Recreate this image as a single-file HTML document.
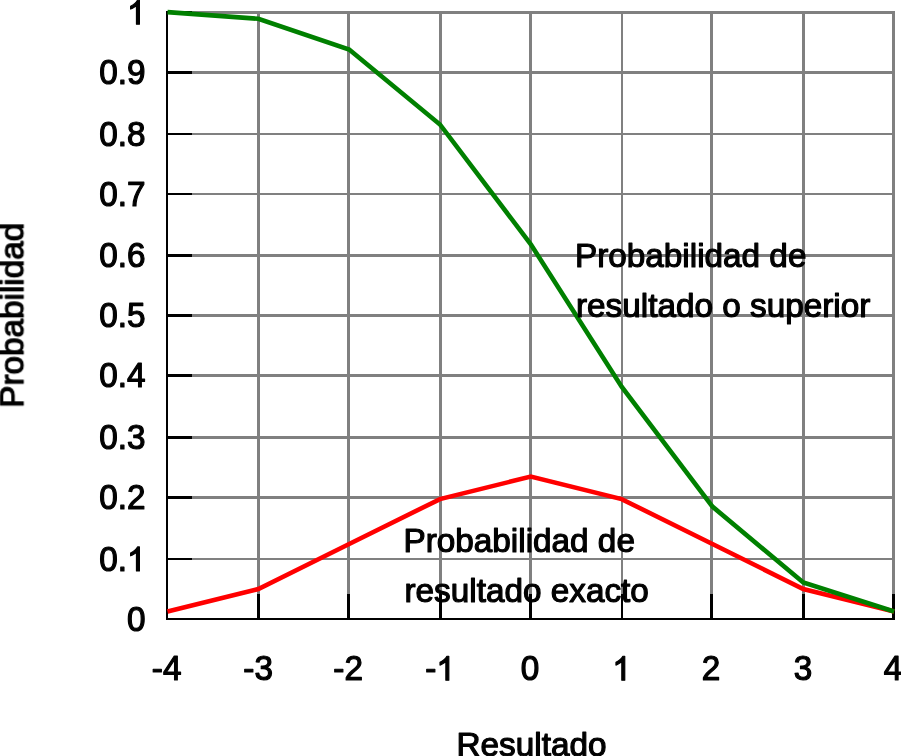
<!DOCTYPE html><html><head><meta charset="utf-8"><style>html,body{margin:0;padding:0;background:#fff;overflow:hidden}svg{display:block}text{font-family:"Liberation Sans",sans-serif;font-size:33.3px;fill:#000;stroke:#000;stroke-width:1.2px;stroke-linejoin:round}</style></head><body>
<svg width="901" height="756" viewBox="0 0 901 756">
<rect width="901" height="756" fill="#fff"/>
<path d="M166 11h2V620h-2zM257 11h3V620h-3zM347 11h3V620h-3zM439 11h3V620h-3zM529 11h3V620h-3zM621 11h2V620h-2zM710 11h3V620h-3zM802 11h3V620h-3zM892 11h3V620h-3zM166 618H895v2H166zM166 558H895v2H166zM166 496H895v3H166zM166 436H895v3H166zM166 374H895v3H166zM166 314H895v3H166zM166 254H895v3H166zM166 193H895v2H166zM166 133H895v2H166zM166 71H895v3H166zM166 11H895v2.5H166z" fill="#808080" shape-rendering="crispEdges"/>
<path d="M166 11h2V620h-2zM166 618H895v2H166zM257 594h3V620h-3zM347 594h3V620h-3zM439 594h3V620h-3zM529 594h3V620h-3zM621 594h2V620h-2zM710 594h3V620h-3zM802 594h3V620h-3zM892 594h3V620h-3zM166 558H192v2H166zM166 496H192v3H166zM166 436H192v3H166zM166 374H192v3H166zM166 314H192v3H166zM166 254H192v3H166zM166 193H192v2H166zM166 133H192v2H166zM166 71H192v3H166zM166 11H192v2.5H166z" fill="#000" shape-rendering="crispEdges"/>
<polyline points="167.52,611.46 258.34,588.98 349.16,544.03 439.98,499.08 530.80,476.60 621.62,499.08 712.44,544.03 803.26,588.98 894.08,611.46" stroke="#ff0000" stroke-width="4.6" fill="none" stroke-linejoin="miter"/>
<polyline points="167.52,12.10 258.34,18.78 349.16,49.56 439.98,124.48 530.80,244.35 621.62,386.70 712.44,506.57 803.26,582.54 894.08,611.46" stroke="#008000" stroke-width="4.6" fill="none" stroke-linejoin="miter"/>
<g opacity="0.999">
<text transform="translate(126.99 630.90) scale(1 1.03)">0</text>
<text transform="translate(99.21 570.90) scale(1 1.03)">0.</text><path d="M763 0H583V1147Q518 1085 412.5 1023T223 930V1104Q374 1175 487 1276T647 1472H763Z" transform="translate(126.99 570.90) scale(0.01626 -0.01626)" fill="#000" stroke="#000" stroke-width="1.2" stroke-linejoin="round" vector-effect="non-scaling-stroke"/>
<text transform="translate(99.21 509.40) scale(1 1.03)">0.2</text>
<text transform="translate(99.21 449.40) scale(1 1.03)">0.3</text>
<text transform="translate(99.21 387.40) scale(1 1.03)">0.4</text>
<text transform="translate(99.21 327.40) scale(1 1.03)">0.5</text>
<text transform="translate(99.21 267.40) scale(1 1.03)">0.6</text>
<text transform="translate(99.21 205.90) scale(1 1.03)">0.7</text>
<text transform="translate(99.21 145.90) scale(1 1.03)">0.8</text>
<text transform="translate(99.21 84.40) scale(1 1.03)">0.9</text>
<path d="M763 0H583V1147Q518 1085 412.5 1023T223 930V1104Q374 1175 487 1276T647 1472H763Z" transform="translate(126.99 24.15) scale(0.01626 -0.01626)" fill="#000" stroke="#000" stroke-width="1.2" stroke-linejoin="round" vector-effect="non-scaling-stroke"/>
<text transform="translate(151.80 680.20) scale(1 1.03)">-4</text>
<text transform="translate(243.30 680.20) scale(1 1.03)">-3</text>
<text transform="translate(333.30 680.20) scale(1 1.03)">-2</text>
<text transform="translate(425.30 680.20) scale(1 1.03)">-</text><path d="M763 0H583V1147Q518 1085 412.5 1023T223 930V1104Q374 1175 487 1276T647 1472H763Z" transform="translate(436.39 680.20) scale(0.01626 -0.01626)" fill="#000" stroke="#000" stroke-width="1.2" stroke-linejoin="round" vector-effect="non-scaling-stroke"/>
<text transform="translate(520.84 680.20) scale(1 1.03)">0</text>
<path d="M763 0H583V1147Q518 1085 412.5 1023T223 930V1104Q374 1175 487 1276T647 1472H763Z" transform="translate(612.34 680.20) scale(0.01626 -0.01626)" fill="#000" stroke="#000" stroke-width="1.2" stroke-linejoin="round" vector-effect="non-scaling-stroke"/>
<text transform="translate(701.84 680.20) scale(1 1.03)">2</text>
<text transform="translate(793.84 680.20) scale(1 1.03)">3</text>
<text transform="translate(883.84 680.20) scale(1 1.03)">4</text>
<text x="531.5" y="756" text-anchor="middle">Resultado</text>
<text transform="translate(23.3 315.3) rotate(-90)" text-anchor="middle">Probabilidad</text>
<text x="575" y="266.8">Probabilidad de</text>
<text x="576" y="317">resultado o superior</text>
<text x="403.5" y="552">Probabilidad de</text>
<text x="404.5" y="601.7">resultado exacto</text>
</g>
</svg></body></html>
